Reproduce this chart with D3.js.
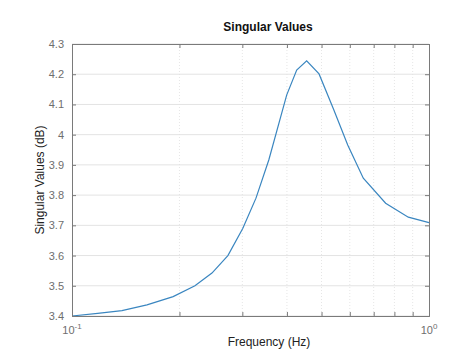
<!DOCTYPE html>
<html><head><meta charset="utf-8">
<script src="https://cdn.jsdelivr.net/npm/d3@7"></script>
<style>body{margin:0;background:#fff;} svg{display:block;font-family:"Liberation Sans",Arial,sans-serif;}</style>
</head><body>
<svg id="c" width="474" height="355"></svg>
<script>
const freq = [0.1, 0.118, 0.138, 0.1622, 0.192, 0.221, 0.2466, 0.2733, 0.301, 0.3276, 0.356, 0.3993, 0.426, 0.4543, 0.492, 0.54, 0.592, 0.6546, 0.756, 0.875, 1.0];
const sv   = [3.400, 3.409, 3.418, 3.437, 3.464, 3.500, 3.542, 3.600, 3.690, 3.790, 3.917, 4.131, 4.214, 4.244, 4.201, 4.085, 3.966, 3.856, 3.773, 3.727, 3.709];
const yTicks = [3.4, 3.5, 3.6, 3.7, 3.8, 3.9, 4, 4.1, 4.2, 4.3];
const xMajor = [0.1, 1];
const xMinor = [0.2, 0.3, 0.4, 0.5, 0.6, 0.7, 0.8, 0.9];

const svg = d3.select("#c");
const L = 72, R = 429, T = 44, B = 316;
const x = d3.scaleLog().domain([0.1, 1]).range([L, R]);
const y = d3.scaleLinear().domain([3.4, 4.3]).range([B, T]);

// grid
svg.append("g").selectAll("line").data(xMinor).join("line")
  .attr("x1", d => x(d)).attr("x2", d => x(d)).attr("y1", T).attr("y2", B)
  .attr("stroke", "#e6e6e6").attr("stroke-dasharray", "1,2").attr("stroke-width", 1);
svg.append("g").selectAll("line").data(yTicks).join("line")
  .attr("x1", L).attr("x2", R).attr("y1", d => y(d)).attr("y2", d => y(d))
  .attr("stroke", "#e3e3e3").attr("stroke-width", 1);

// line
svg.append("path").datum(freq.map((f, i) => [f, sv[i]]))
  .attr("d", d3.line().x(d => x(d[0])).y(d => y(d[1])))
  .attr("fill", "none").attr("stroke", "#3a86c0").attr("stroke-width", 1.2);

// axes (ticks inward)
const axCol = "#7a7a7a";
const gL = svg.append("g").attr("transform", `translate(${L},0)`)
  .call(d3.axisLeft(y).tickValues(yTicks).tickSize(-4).tickPadding(8).tickFormat(d3.format("")));
const gR = svg.append("g").attr("transform", `translate(${R},0)`)
  .call(d3.axisRight(y).tickValues(yTicks).tickSize(-4).tickFormat(""));
const allX = xMajor.concat(xMinor);
const gB = svg.append("g").attr("transform", `translate(0,${B})`)
  .call(d3.axisBottom(x).tickValues(allX).tickSize(-4).tickFormat(""));
const gT = svg.append("g").attr("transform", `translate(0,${T})`)
  .call(d3.axisTop(x).tickValues(allX).tickSize(-4).tickFormat(""));
[gL, gR, gB, gT].forEach(g => {
  g.selectAll("path.domain").attr("stroke", axCol);
  g.selectAll(".tick line").attr("stroke", axCol);
});
gL.selectAll("text").attr("fill", "#6e6e6e").attr("font-size", 11).attr("font-family", "Liberation Sans, Arial, sans-serif");

// x tick labels with exponents
const xl = svg.append("g");
xMajor.forEach(v => {
  const t = xl.append("text").attr("x", x(v)).attr("y", B + 18).attr("text-anchor", "middle")
    .attr("fill", "#6e6e6e").attr("font-size", 11);
  t.append("tspan").text("10");
  t.append("tspan").attr("dy", -5).attr("font-size", 8).text(String(Math.round(Math.log10(v))));
});

// title and labels
svg.append("text").attr("x", 268).attr("y", 31).attr("text-anchor", "middle")
  .attr("font-weight", "bold").attr("font-size", 12).attr("fill", "#111").text("Singular Values");
svg.append("text").attr("x", 269).attr("y", 346).attr("text-anchor", "middle")
  .attr("font-size", 12).attr("fill", "#222").text("Frequency (Hz)");
svg.append("text").attr("transform", `translate(44,${(T + B) / 2}) rotate(-90)`).attr("text-anchor", "middle")
  .attr("font-size", 12).attr("fill", "#222").text("Singular Values (dB)");
</script>
</body></html>
